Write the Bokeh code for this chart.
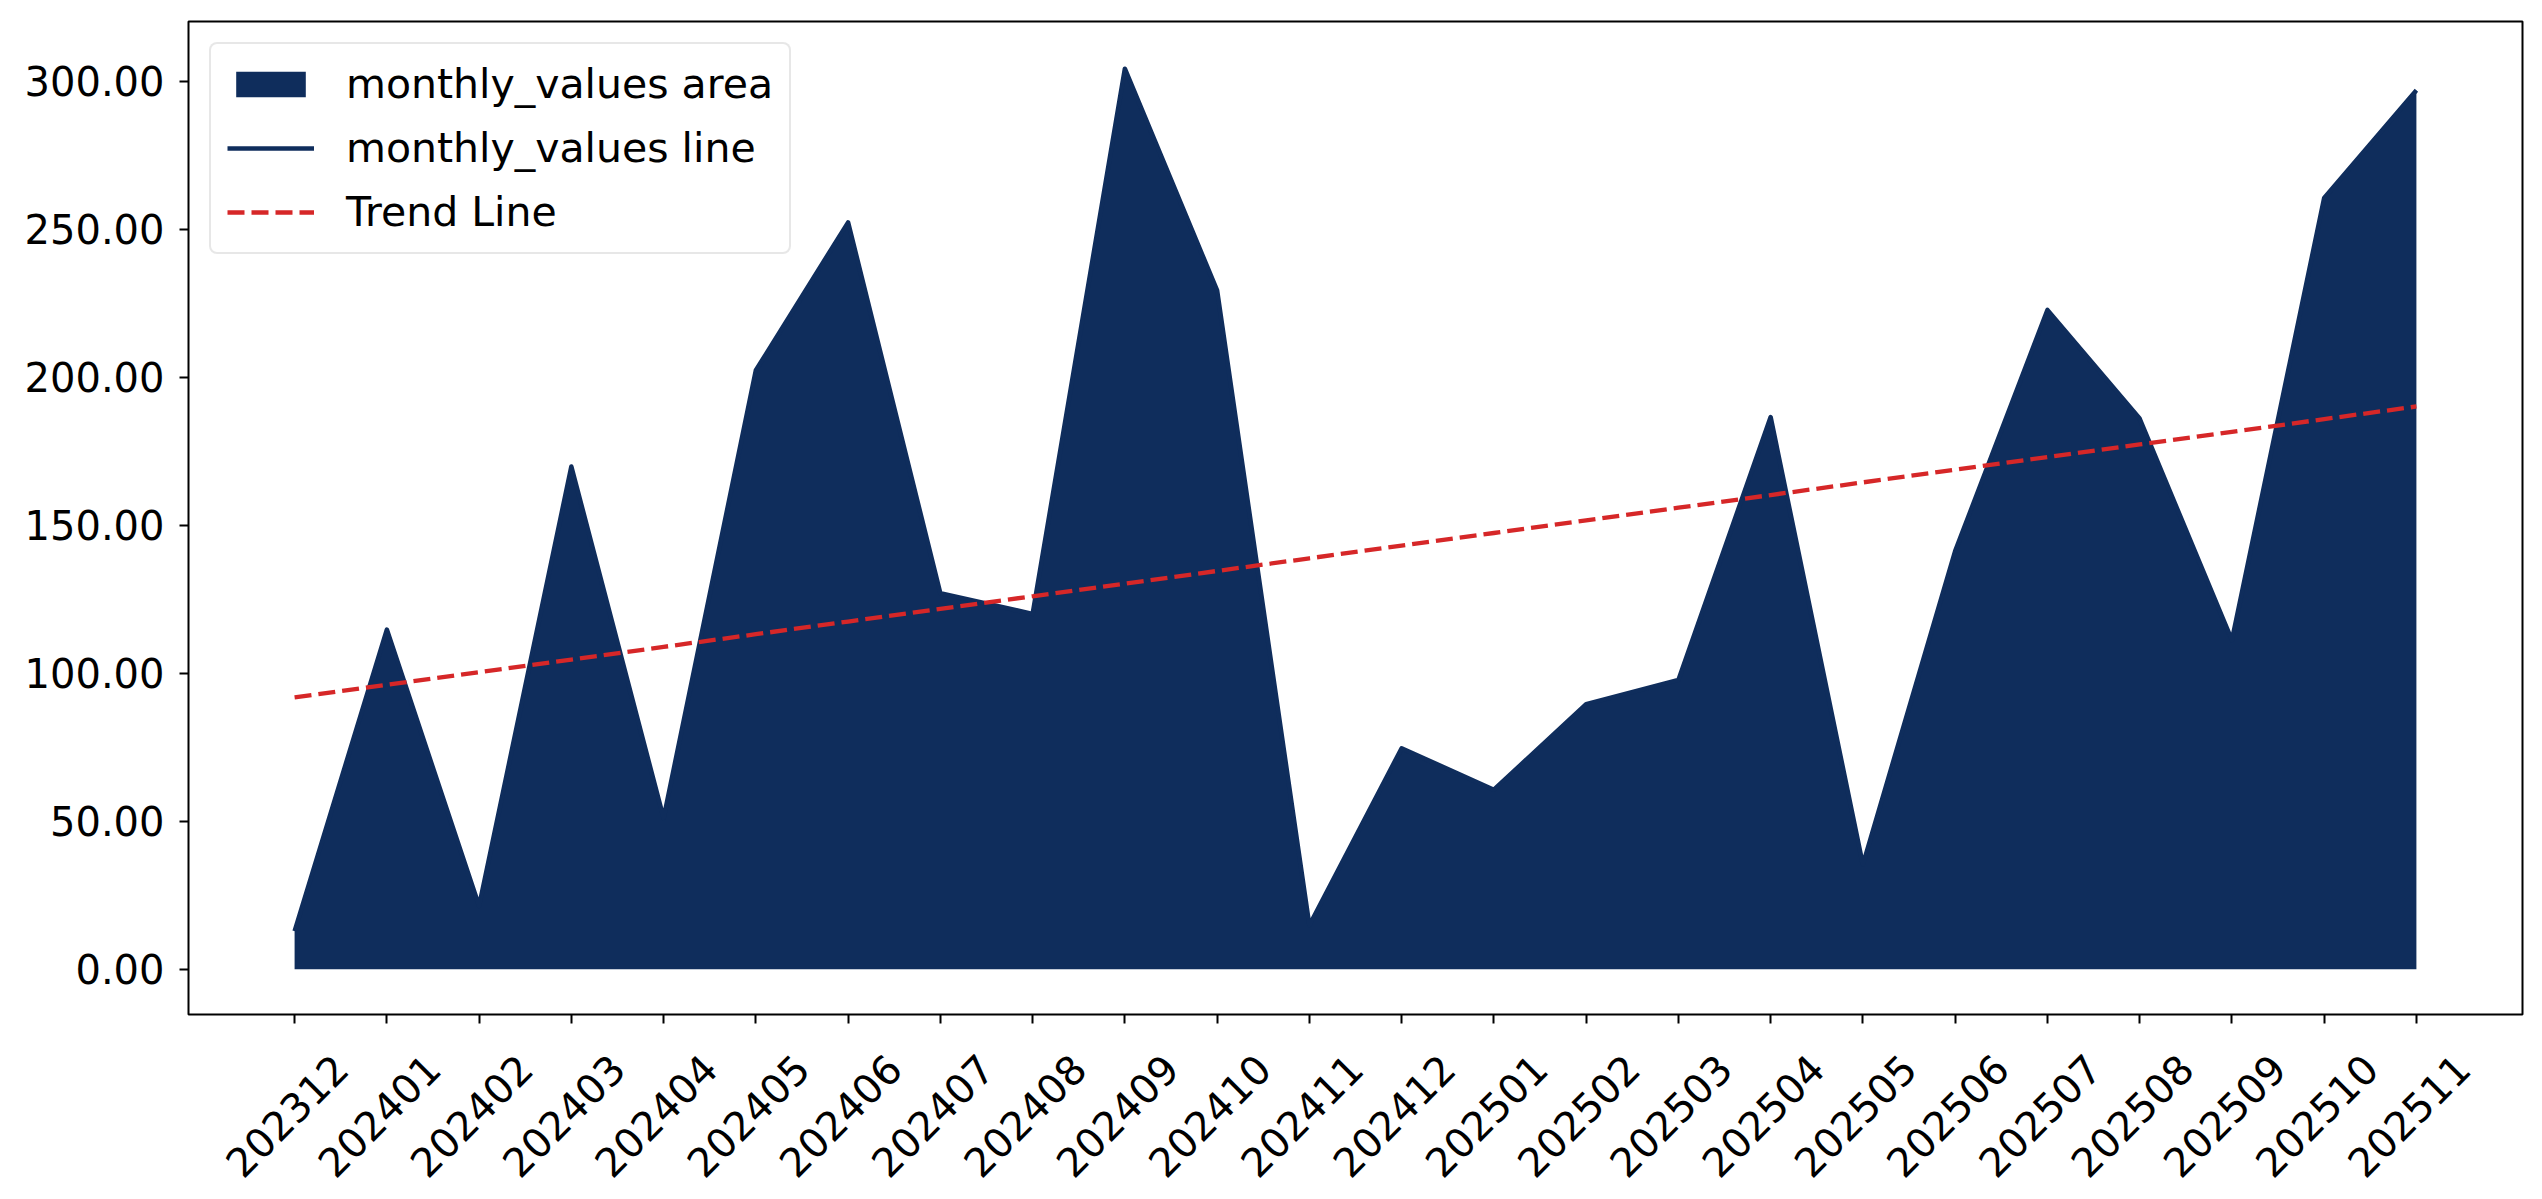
import numpy as np
from math import pi
from bokeh.plotting import figure
from bokeh.models import (FixedTicker, Legend, LegendItem, NumeralTickFormatter,
                          Range1d, ColumnDataSource, LinearAxis)
from bokeh.embed import file_html
from bokeh.resources import INLINE

months = ["202312", "202401", "202402", "202403", "202404", "202405", "202406",
          "202407", "202408", "202409", "202410", "202411", "202412", "202501",
          "202502", "202503", "202504", "202505", "202506", "202507", "202508",
          "202509", "202510", "202511"]
monthly_values = [12.9, 114.8, 21.4, 169.9, 51.1, 202.4, 252.4, 127.1, 120.1, 304.3,
                  229.4, 14.9, 74.7, 60.7, 89.6, 97.8, 186.6, 35.4, 141.3, 222.8,
                  186.1, 111.2, 260.6, 297.0]
y_ticks = [0, 50, 100, 150, 200, 250, 300]

NAVY = "#0f2d5c"
RED = "#d62728"
FONT = "DejaVu Sans"
LABEL_SHIFT = 0.5  # matplotlib centres rotated labels under the tick

x = np.arange(len(months))
slope, intercept = np.polyfit(x, np.array(monthly_values), 1)
trend = slope * x + intercept

src = ColumnDataSource(dict(x=x, v=monthly_values, t=trend))

p = figure(width=2540, height=1197, output_backend="svg", toolbar_location=None,
           x_range=Range1d(-1.15, 24.15), y_range=Range1d(-15.25, 320.25),
           min_border_left=188, min_border_right=18, min_border_top=21,
           min_border_bottom=183)
p.background_fill_color = "white"
p.border_fill_color = "white"
p.outline_line_color = "black"
p.outline_line_width = 2
p.grid.visible = False

area = p.varea(x="x", y1=0, y2="v", source=src, fill_color=NAVY, fill_alpha=1.0)
line = p.line(x="x", y="v", source=src, line_color=NAVY, line_width=4.5,
              line_join="round")
tline = p.line(x="x", y="t", source=src, line_color=RED, line_width=4.3,
               line_dash="17 7")

# primary x axis: tick marks only
xa = p.xaxis[0]
xa.ticker = FixedTicker(ticks=list(range(len(months))))
xa.major_label_overrides = {i: "" for i in range(len(months))}
xa.major_label_text_font_size = "0px"
xa.major_label_standoff = 0
xa.minor_tick_line_color = None
xa.axis_line_color = None
xa.major_tick_out = 9
xa.major_tick_in = 0
xa.major_tick_line_width = 2

# label axis: rotated month labels
label_ticks = [round(i + LABEL_SHIFT, 2) for i in range(len(months))]
xl = LinearAxis(ticker=FixedTicker(ticks=label_ticks),
                major_label_overrides={t: m for t, m in zip(label_ticks, months)})
xl.major_label_orientation = pi / 4
xl.axis_line_color = None
xl.major_tick_line_color = None
xl.minor_tick_line_color = None
xl.major_tick_out = 0
xl.major_tick_in = 0
xl.major_label_text_font = FONT
xl.major_label_text_font_size = "40px"
xl.major_label_text_color = "black"
xl.major_label_standoff = 38
p.add_layout(xl, "below")

ya = p.yaxis[0]
ya.ticker = FixedTicker(ticks=y_ticks)
ya.formatter = NumeralTickFormatter(format="0.00")
ya.minor_tick_line_color = None
ya.axis_line_color = None
ya.major_tick_out = 9
ya.major_tick_in = 0
ya.major_tick_line_width = 2
ya.major_label_text_font = FONT
ya.major_label_text_font_size = "40px"
ya.major_label_text_color = "black"
ya.major_label_standoff = 15

legend = Legend(items=[
    LegendItem(label="monthly_values area", renderers=[area]),
    LegendItem(label="monthly_values line", renderers=[line]),
    LegendItem(label="Trend Line", renderers=[tline]),
], location="top_left")
legend.margin = 21
legend.padding = 16
legend.spacing = 16
legend.glyph_width = 87
legend.glyph_height = 32
legend.label_standoff = 32
legend.label_text_font = FONT
legend.label_text_font_size = "41px"
legend.label_text_color = "black"
legend.border_line_color = "#d0d0d0"
legend.border_line_width = 2.5
legend.background_fill_color = "white"
legend.background_fill_alpha = 0.8
if "border_radius" in Legend.properties():
    legend.border_radius = 8
p.add_layout(legend)

open("out.html", "w").write(file_html(p, INLINE))
